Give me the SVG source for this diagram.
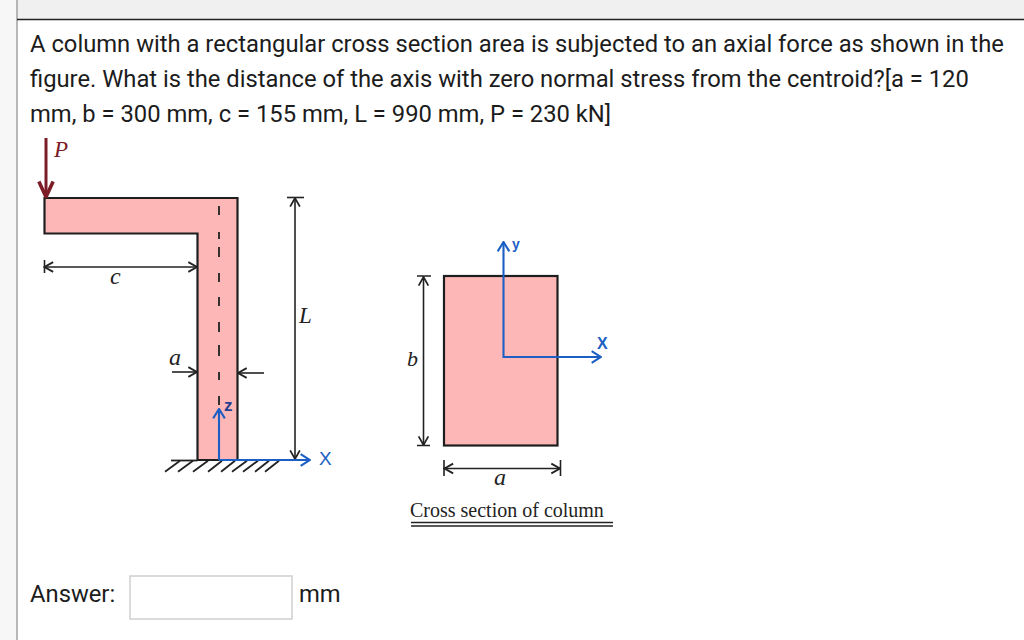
<svg xmlns="http://www.w3.org/2000/svg" width="1024" height="640" viewBox="0 0 1024 640">
<defs>
<marker id="open" viewBox="0 0 12 12" refX="11" refY="6" markerWidth="13" markerHeight="13" markerUnits="userSpaceOnUse" orient="auto-start-reverse"><path d="M3 1.5 L11 6 L3 10.5" fill="none" stroke="#222" stroke-width="1.6"/></marker>
<marker id="blue" viewBox="0 0 12 12" refX="11" refY="6" markerWidth="14" markerHeight="14" markerUnits="userSpaceOnUse" orient="auto-start-reverse"><path d="M3 1 L11 6 L3 11" fill="none" stroke="#1c5fc4" stroke-width="1.8"/></marker>
<marker id="red" viewBox="0 0 16 16" refX="15" refY="8" markerWidth="19" markerHeight="19" markerUnits="userSpaceOnUse" orient="auto"><path d="M2 2 L15 8 L2 14" fill="none" stroke="#7b1c26" stroke-width="3"/></marker>
</defs>
<style>
.t{font-family:Roboto,"Liberation Sans",sans-serif;font-size:23.77px;fill:#1c1c1c}
.i{font-family:"Liberation Serif",serif;font-style:italic;font-size:24px;fill:#222}
.s{fill:#fdb7b7;stroke:#1e1e1e;stroke-width:2.2}
.d{fill:none;stroke:#222;stroke-width:1.6}
.b{fill:none;stroke:#1c5fc4;stroke-width:2.1}
.l{font-family:"Liberation Sans",sans-serif;font-weight:bold;fill:#1c5fc4;font-size:16px}
</style>
<rect width="1024" height="640" fill="#fff"/>
<rect x="0" y="0" width="17" height="640" fill="#f7f7f7"/>
<rect x="17" y="0" width="1007" height="19" fill="#f0f0f0"/>
<path d="M17 0V640" stroke="#a0a0a0" stroke-width="1.5" fill="none"/>
<path d="M17 19.5H1024" stroke="#222" stroke-width="1.5" fill="none"/>
<g id="question">
<text class="t" x="30" y="51.5">A column with a rectangular cross section area is subjected to an axial force as shown in the</text>
<text class="t" x="30" y="86.5">figure. What is the distance of the axis with zero normal stress from the centroid?[a = 120</text>
<text class="t" x="30" y="122">mm, b = 300 mm, c = 155 mm, L = 990 mm, P = 230 kN]</text>
</g>
<g id="column">
<path class="s" d="M44.5 198H237.5V460H197.5V233.5H44.5Z"/>
<path d="M219 206V215M219 232V239M219 247V257M219 273V282M219 297V306M219 322V332M219 345V356M219 372V380M219 396V405" stroke="#222" stroke-width="1.8" fill="none"/>
</g>
<g id="ground">
<path d="M171 460.5H197.5" stroke="#222" stroke-width="1.8"/>
<path d="M165 471.7L180 460.7M178 471.7L193 460.7M193 471.7L208 460.7M208 471.7L222 460.7M221 471.7L235 460.7M232 471.7L247 460.7M243 471.7L258 460.7M255 471.7L269 460.7M265 471.7L279 460.7" stroke="#222" stroke-width="1.8" fill="none"/>
</g>
<g id="connectors">
<path d="M46 138V197" stroke="#7b1c26" stroke-width="3" fill="none" marker-end="url(#red)"/>
<path class="d" d="M44.5 267H197" marker-start="url(#open)" marker-end="url(#open)"/>
<path class="d" d="M44.5 260V273"/>
<path class="d" d="M295 198V459" marker-start="url(#open)" marker-end="url(#open)"/>
<path class="d" d="M287 197.5H304"/>
<path class="d" d="M172 372H197" marker-end="url(#open)"/>
<path class="d" d="M264 373H238" marker-end="url(#open)"/>
<path class="b" d="M219 460V409" marker-end="url(#blue)"/>
<path class="b" d="M219 460H310" marker-end="url(#blue)"/>
<path class="d" d="M423.5 277V445" marker-start="url(#open)" marker-end="url(#open)"/>
<path class="d" d="M417 276H431M417 445.5H430"/>
<path class="d" d="M444.5 468.5H560" marker-start="url(#open)" marker-end="url(#open)"/>
<path class="d" d="M444 460V476M560.5 460V476"/>
</g>
<g id="section">
<rect class="s" x="444" y="276" width="113.5" height="169.5"/>
<path class="b" d="M503.5 276V242" marker-end="url(#blue)"/>
<path class="b" d="M503.5 276V357H601" marker-end="url(#blue)"/>
</g>
<g id="labels">
<text class="i" x="54" y="157" style="fill:#7b1c26;font-size:23px">P</text>
<text class="i" x="110" y="284">c</text>
<text class="i" x="299" y="323" style="font-size:23px">L</text>
<text class="i" x="169" y="365">a</text>
<text class="l" x="224" y="411" style="fill:#25408f;font-size:17px">z</text>
<text class="l" x="319" y="465" style="font-size:19px;font-weight:normal">X</text>
<text class="l" x="512" y="249" style="font-size:14px">y</text>
<text class="l" x="597" y="349">X</text>
<text class="i" x="407" y="366" style="font-size:22px">b</text>
<text class="i" x="494" y="485">a</text>
<text x="410" y="517" font-family="Liberation Serif, serif" font-size="20" fill="#222">Cross section of column</text>
<path d="M411 522.5H613M411 526H613" stroke="#222" stroke-width="1.4" fill="none"/>
</g>
<g id="answer">
<text class="t" x="30" y="601.5">Answer:</text>
<rect x="130" y="576" width="162" height="43" fill="#fff" stroke="#cfcfcf" stroke-width="1.5"/>
<text class="t" x="299" y="601.5">mm</text>
</g>
</svg>
